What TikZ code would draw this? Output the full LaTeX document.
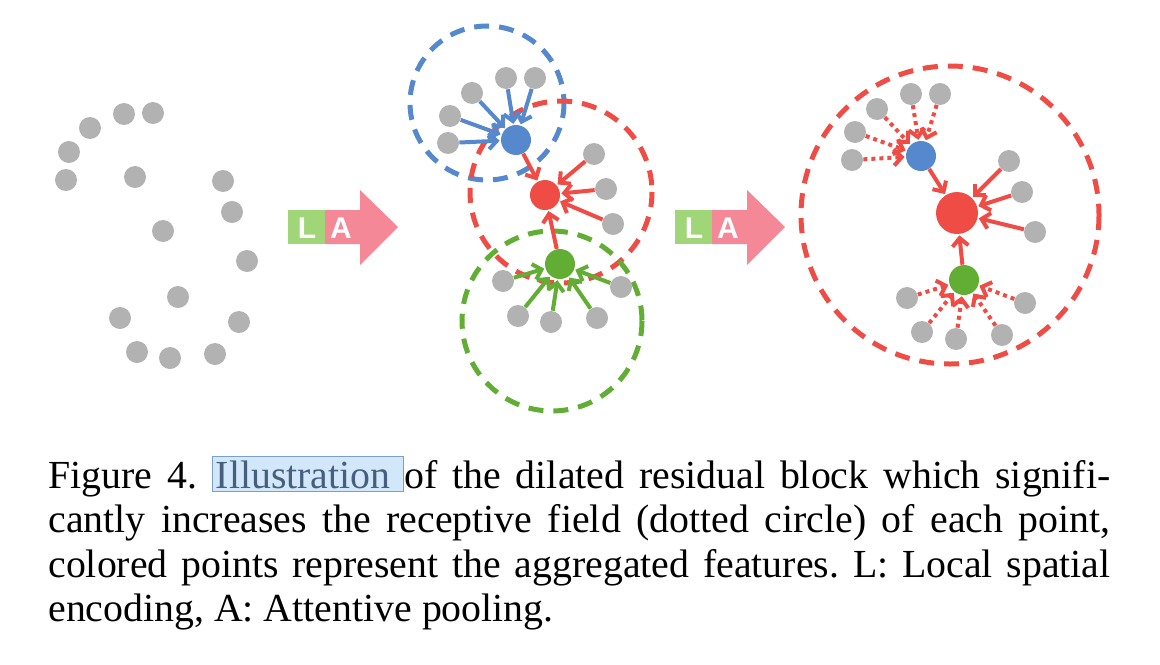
\documentclass[tikz,border=0pt]{standalone}
\usepackage{fontspec}
\setmainfont{Liberation Serif}
\newfontfamily\sansf{Liberation Sans}
\usetikzlibrary{arrows.meta}
\definecolor{gr}{RGB}{178,178,178}
\definecolor{bl}{RGB}{85,136,204}
\definecolor{rd}{RGB}{238,76,68}
\definecolor{gn}{RGB}{98,174,52}
\definecolor{lg}{RGB}{160,214,120}
\definecolor{pk}{RGB}{245,136,150}
\definecolor{hl}{RGB}{210,232,250}
\definecolor{hb}{RGB}{120,160,200}
\definecolor{ht}{RGB}{70,95,125}
\tikzset{
 pt/.style={circle,fill=gr,inner sep=0,minimum size=11pt},
 cp/.style={circle,fill=#1,inner sep=0,minimum size=15pt},
 ar/.style={draw=#1,line width=2pt,-{Straight Barb[length=4pt,width=8pt]},shorten >=0.5pt},
 dar/.style={ar=#1,dash pattern=on 2pt off 2pt},
 dc/.style={draw=#1,line width=2.5pt,dash pattern=on 7.5pt off 5pt},
 lab/.style={inner sep=0,font=\sansf\bfseries\fontsize{15}{15}\selectfont,text=white}
}
\begin{document}
\begin{tikzpicture}[x=0.5pt,y=-0.5pt]
\useasboundingbox (0,0) rectangle (1160,664);
% left points
\foreach \p [count=\i] in {(90,128),(124,114),(153,113),(69,152),(66,180),(135,177),(223,181),(232,212),(163,231),(247,261),(178,297),(120,318),(239,322),(137,352),(170,358),(215,354)}
  \node[pt] (l\i) at \p {};
% LA arrows
\foreach \x/\n in {288/a,675/b}{
  \fill[lg] (\x,210) rectangle (\x+37,244);
  \fill[pk] (\x+37,210) -- (\x+72,210) -- (\x+72,190) -- (\x+110,227) -- (\x+72,265) -- (\x+72,244) -- (\x+37,244) -- cycle;
  \node[lab] (L\n) at (\x+19,228) {L};
  \node[lab] (A\n) at (\x+53,228) {A};
}
% middle
\draw[dc=bl] (487,103) circle (77);
\draw[dc=rd] (561,192) circle (91);
\draw[dc=gn] (552,321) circle (90);
\node[cp=bl] (mb) at (516,140) {};
\node[cp=rd] (mr) at (545,195) {};
\node[cp=gn] (mg) at (560,264) {};
\foreach \p [count=\i] in {(472,93),(506,78),(535,78),(450,116),(448,143)}{
  \node[pt] (mb\i) at \p {}; \draw[ar=bl] (mb\i) -- (mb);}
\foreach \p [count=\i] in {(594,154),(606,189),(613,224)}{
  \node[pt] (mr\i) at \p {}; \draw[ar=rd] (mr\i) -- (mr);}
\foreach \p [count=\i] in {(503,281),(518,316),(551,322),(597,318),(621,287)}{
  \node[pt] (mg\i) at \p {}; \draw[ar=gn] (mg\i) -- (mg);}
\draw[ar=rd] (mb) -- (mr);
\draw[ar=rd] (mg) -- (mr);
% right
\draw[dc=rd] (950,215) circle (149);
\node[cp=bl] (rb) at (921,156) {};
\node[circle,fill=rd,inner sep=0,minimum size=21pt] (rr) at (957,213) {};
\node[cp=gn] (rg) at (964,280) {};
\foreach \p [count=\i] in {(877,109),(911,94),(940,94),(855,132),(852,160)}{
  \node[pt] (rb\i) at \p {}; \draw[dar=rd] (rb\i) -- (rb);}
\foreach \p [count=\i] in {(1009,161),(1022,192),(1035,232)}{
  \node[pt] (rr\i) at \p {}; \draw[ar=rd] (rr\i) -- (rr);}
\foreach \p [count=\i] in {(907,298),(922,332),(956,339),(1002,335),(1025,303)}{
  \node[pt] (rg\i) at \p {}; \draw[dar=rd] (rg\i) -- (rg);}
\draw[ar=rd] (rb) -- (rr);
\draw[ar=rd] (rg) -- (rr);
% caption
\node[anchor=north west,inner sep=0,text width=531pt,align=justify,font=\fontsize{19.9}{22.3}\selectfont] (cap) at (48,456)
{\frenchspacing Figure 4. {\setlength\fboxsep{1.5pt}\setlength\fboxrule{0.5pt}\fcolorbox{hb}{hl}{\textcolor{ht}{Illustration\ }}}of the dilated residual block which signifi-\linebreak cantly increases the receptive field (dotted circle) of each point,\linebreak colored points represent the aggregated features. L: Local spatial\linebreak encoding, A: Attentive pooling.};
\end{tikzpicture}
\end{document}
